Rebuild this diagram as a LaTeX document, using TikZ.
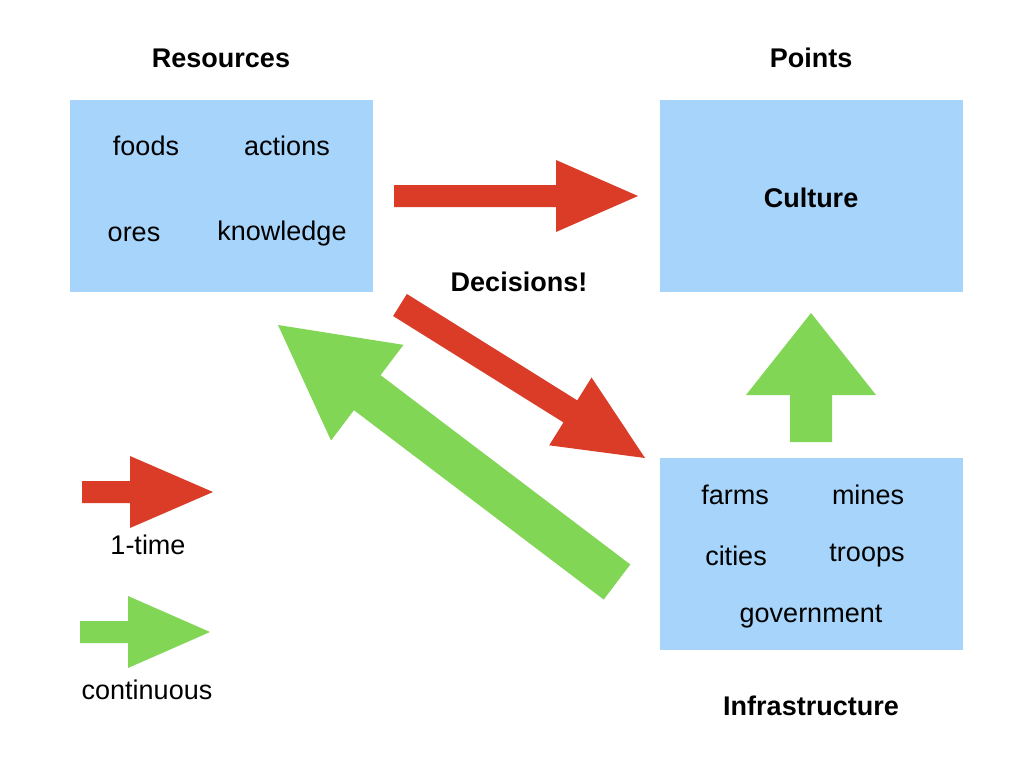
\documentclass[tikz,border=0pt]{standalone}
\usepackage{fontspec}
\setmainfont{Liberation Sans}
\usetikzlibrary{calc}
\definecolor{boxblue}{RGB}{166,212,250}
\definecolor{arred}{RGB}{218,60,40}
\definecolor{argreen}{RGB}{130,214,85}
\newcommand\fatarr[6]{%
 \coordinate (hb) at ($(#3)!#6!(#2)$);
 \fill[#1] ($(#2)!#4!90:(#3)$) -- ($(hb)!#4!90:(#3)$) -- ($(hb)!#5!90:(#3)$) -- (#3)
   -- ($(hb)!#5!-90:(#3)$) -- ($(hb)!#4!-90:(#3)$) -- ($(#2)!#4!-90:(#3)$) -- cycle;}
\begin{document}
\begin{tikzpicture}[x=1pt,y=-1pt,
  txt/.style={font=\fontsize{27}{32}\selectfont, inner sep=0pt},
  ttl/.style={txt, font=\fontsize{27}{32}\selectfont\bfseries},
  panel/.style={fill=boxblue}]
\useasboundingbox[fill=white] (0,0) rectangle (1024,768);
\fill[panel] (70,100) rectangle (373,292);
\fill[panel] (660,100) rectangle (963,292);
\fill[panel] (660,458) rectangle (963,650);
\node[ttl] (res) at (221,58) {Resources};
\node[ttl] (pts) at (811,58) {Points};
\node[ttl] (inf) at (811,706) {Infrastructure};
\node[ttl] (dec) at (519,282) {Decisions!};
\node[ttl] (cul) at (811,198) {Culture};
\node[txt] (foods) at (146,146) {foods};
\node[txt] (actions) at (287,146) {actions};
\node[txt] (ores) at (134,234) {ores};
\node[txt] (know) at (282,234) {knowledge};
\node[txt] (farms) at (735,495) {farms};
\node[txt] (mines) at (868,495) {mines};
\node[txt] (cities) at (736,556) {cities};
\node[txt] (troops) at (867,556) {troops};
\node[txt] (gov) at (811,617) {government};
\node[txt] (one) at (148,545) {1-time};
\node[txt] (cont) at (147,690) {continuous};
\coordinate (a1) at (394,196); \coordinate (a1t) at (638,196);
\fatarr{arred}{a1}{a1t}{11pt}{36pt}{82pt}
\coordinate (a2) at (400,305); \coordinate (a2t) at (645,458);
\fatarr{arred}{a2}{a2t}{13pt}{40pt}{88pt}
\coordinate (a3) at (617,582); \coordinate (a3t) at (278,325);
\fatarr{argreen}{a3}{a3t}{22pt}{60pt}{112pt}
\coordinate (a4) at (811,442); \coordinate (a4t) at (811,313);
\fatarr{argreen}{a4}{a4t}{21pt}{65pt}{82pt}
\coordinate (l1) at (82,492); \coordinate (l1t) at (213,492);
\fatarr{arred}{l1}{l1t}{11pt}{36pt}{83pt}
\coordinate (l2) at (80,632); \coordinate (l2t) at (210,632);
\fatarr{argreen}{l2}{l2t}{11pt}{36pt}{82pt}
\end{tikzpicture}
\end{document}
